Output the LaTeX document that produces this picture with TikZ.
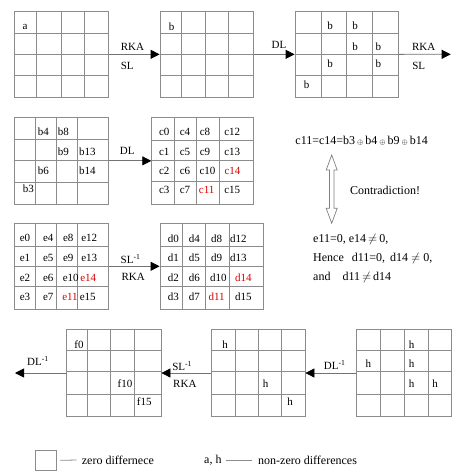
\documentclass[tikz,border=0pt]{standalone}
\usepackage{fontspec}
\setmainfont{Liberation Serif}
\usepackage{tikz}
\usetikzlibrary{arrows.meta}
\tikzset{
  gridbox/.style={draw=black!45, line width=0.8pt, inner sep=0pt},
  gridline/.style={draw=black!45, line width=0.8pt},
  flow/.style={draw=black!55, line width=0.8pt, -{Triangle[length=9pt,width=9pt,black]}},
  lbl/.style={font=\fontsize{11}{12}\selectfont, inner sep=1pt},
  cell/.style={font=\fontsize{11}{12}\selectfont, inner sep=0pt},
  stmt/.style={font=\fontsize{12}{14}\selectfont, inner sep=0pt},
  hollow/.style={draw=black!50, line width=0.7pt, fill=white},
}
\newcommand{\hot}[1]{\textcolor{red!85!black}{#1}}
\newcommand{\xo}{\,{\scriptsize$\oplus$}\,}
% name, centre, width, height, inner columns, inner rows
\newcommand{\stategrid}[6]{%
  \node[gridbox, minimum width=#3pt, minimum height=#4pt] (#1) at #2 {};
  \foreach \gx in {#5} \draw[gridline] (\gx,0 |- #1.north) -- (\gx,0 |- #1.south);
  \foreach \gy in {#6} \draw[gridline] (#1.west |- 0,\gy) -- (#1.east |- 0,\gy);
}
\begin{document}
\begin{tikzpicture}[x=1pt,y=-1pt]
\useasboundingbox (0,0) rectangle (474,475);
% first row
\stategrid{ga}{(61.3,54.35)}{94}{86.7}{36.7,61.7,84.3}{33.3,54.3,75}
\stategrid{gb}{(206.65,54.35)}{93.3}{86.7}{181.7,205,228.3}{33.3,54.3,75}
\stategrid{gc}{(346.65,54.35)}{103.3}{86.7}{321.7,346.7,372.7}{33.3,54.3,75}
\foreach \x/\y/\txt [count=\i] in {25/26.7/a,171.7/26.7/b,330/25.7/b,355/25.7/b,355/46.7/b,378.3/46.7/b,330/64/b,378.3/64/b,306.7/85/b}
  \node[cell] (ta\i) at (\x,\y) {\txt};
\coordinate (outa) at (450.7,54.3);
\draw[flow] (ga.east) -- node[lbl, above=2.3pt, xshift=-1.7pt]{RKA} node[lbl, below=6.5pt, xshift=-6.9pt]{SL} (gb.west);
\draw[flow] (gb.east) -- node[lbl, above=4pt, xshift=4.8pt]{DL} (gc.west);
\draw[flow] (gc.east) -- node[lbl, above=2.3pt, xshift=-1pt]{RKA} node[lbl, below=6.5pt, xshift=-6pt]{SL} (outa);
% second row
\stategrid{gbb}{(61.3,160.85)}{94}{86.3}{35.7,56.7,77.7}{139,160.7,182.3}
\stategrid{gcc}{(202.5,160.85)}{101.6}{86.3}{174.3,196.7,219.3}{140,160.7,181.7}
\foreach \x/\y/\txt [count=\i] in {43.3/131.7/b4,63.3/131.7/b8,63.3/151.7/b9,87.3/151.7/b13,43.3/170.7/b6,87.3/170.7/b14,28.3/189/b3}
  \node[cell] (tb\i) at (\x,\y) {\txt};
\foreach \x/\y/\txt [count=\i] in {164.3/131.7/c0,185/131.7/c4,205/131.7/c8,232.3/131.7/c12,
  164.3/151.7/c1,185/151.7/c5,205/151.7/c9,232.3/151.7/c13,
  164.3/170.7/c2,185/170.7/c6,207.5/170.7/c10,232.5/170.7/\hot{c14},
  164.3/190/c3,185/190/c7,206.7/190/\hot{c11},232.3/190/c15}
  \node[cell] (tc\i) at (\x,\y) {\txt};
\draw[flow] (gbb.east) -- node[lbl, above=4.7pt, xshift=-2.7pt]{DL} (gcc.west);
\node[stmt] (eq) at (361.7,141) {c11=c14=b3\xo b4\xo b9\xo b14};
\coordinate (vtop) at (331.7,155);
\draw[hollow] (vtop) -- ++(5.5,15) -- ++(-3.2,0) -- ++(0,38.3) -- ++(3.2,0) -- ++(-5.5,15)
  -- ++(-5.5,-15) -- ++(3.2,0) -- ++(0,-38.3) -- ++(-3.2,0) -- cycle;
\node[stmt] (contra) at (385,190) {Contradiction!};
% third row
\stategrid{ge}{(61.3,266.3)}{94}{86}{35.7,56.7,77.7}{246.7,266,286.7}
\stategrid{gd}{(211.65,266.3)}{103.3}{86}{182.7,205.7,229}{246.7,266,286.7}
\foreach \x/\y/\txt [count=\i] in {25/238.3/e0,48.3/238.3/e4,68.3/238.3/e8,89.3/238.3/e12,
  25/257.7/e1,48.3/257.7/e5,68.3/257.7/e9,89.3/257.7/e13,
  25/277.7/e2,48.3/277.7/e6,70.7/277.7/e10,88.3/277.7/\hot{e14},
  25/296.7/e3,48.3/296.7/e7,70/296.7/\hot{e11},87.7/296.7/e15}
  \node[cell] (te\i) at (\x,\y) {\txt};
\foreach \x/\y/\txt [count=\i] in {173.3/238.3/d0,194.3/238.3/d4,216.7/238.3/d8,238.3/238.3/d12,
  173.3/257.7/d1,194.3/257.7/d5,216.7/257.7/d9,238.3/257.7/d13,
  173.3/277.7/d2,194.3/277.7/d6,218.3/277.7/d10,243.3/277.7/\hot{d14},
  173.3/296.7/d3,194.3/296.7/d7,216.7/296.7/\hot{d11},243.3/296.7/d15}
  \node[cell] (td\i) at (\x,\y) {\txt};
\draw[flow] (ge.east) -- node[lbl, above=1pt, xshift=-3.6pt]{SL\textsuperscript{-1}} node[lbl, below=5.7pt, xshift=-0.9pt]{RKA} (gd.west);
\node[stmt, anchor=west] (s1) at (313,239.3) {e11=0, e14\,$\neq$\,0,};
\node[stmt, anchor=west] (s2) at (313,258.3) {Hence\hspace{8pt}d11=0,\hspace{5pt}d14 $\neq$ 0,};
\node[stmt, anchor=west] (s3) at (313,277.7) {and\hspace{12pt}d11\,$\neq$\,d14};
% fourth row
\stategrid{gf}{(113.85,373)}{94.3}{87.4}{87.7,110,134.3}{350.7,371.7,394}
\stategrid{gh}{(258.35,373)}{93.3}{87.4}{235,258.3,281}{350.7,371.7,394}
\stategrid{ghh}{(404.2,373)}{95}{87.4}{380,404.3,428.3}{350.7,371.7,394}
\foreach \x/\y/\txt [count=\i] in {79/345/f0,125/383.3/f10,144.3/401.7/f15,
  225/345/h,265.7/383.3/h,290/401.7/h,
  411.7/345/h,368.3/364/h,411.7/364/h,411.7/383.3/h,435/383.3/h}
  \node[cell] (tf\i) at (\x,\y) {\txt};
\coordinate (outf) at (15,373);
\draw[flow] (ghh.west) -- node[lbl, above=2.4pt, xshift=3.9pt]{DL\textsuperscript{-1}} (gh.east);
\draw[flow] (gh.west) -- node[lbl, above=1pt, xshift=-4.2pt]{SL\textsuperscript{-1}} node[lbl, below=5.6pt, xshift=-1.5pt]{RKA} (gf.east);
\draw[flow] (gf.west) -- node[lbl, above=5.7pt, xshift=-2.7pt]{DL\textsuperscript{-1}} (outf);
% legend
\node[gridbox, minimum width=21pt, minimum height=19.3pt] (key) at (45.5,460.35) {};
\node[stmt, anchor=west] (zero) at (81.7,460) {zero differnece};
\draw[gridline] ([xshift=4pt]key.east) -- ([xshift=-5pt]zero.west);
\node[stmt, anchor=west] (ah) at (204,460) {a, h};
\node[stmt, anchor=west] (nonzero) at (258,460) {non-zero differences};
\draw[gridline] ([xshift=4pt]ah.east) -- ([xshift=-6pt]nonzero.west);
\end{tikzpicture}
\end{document}
